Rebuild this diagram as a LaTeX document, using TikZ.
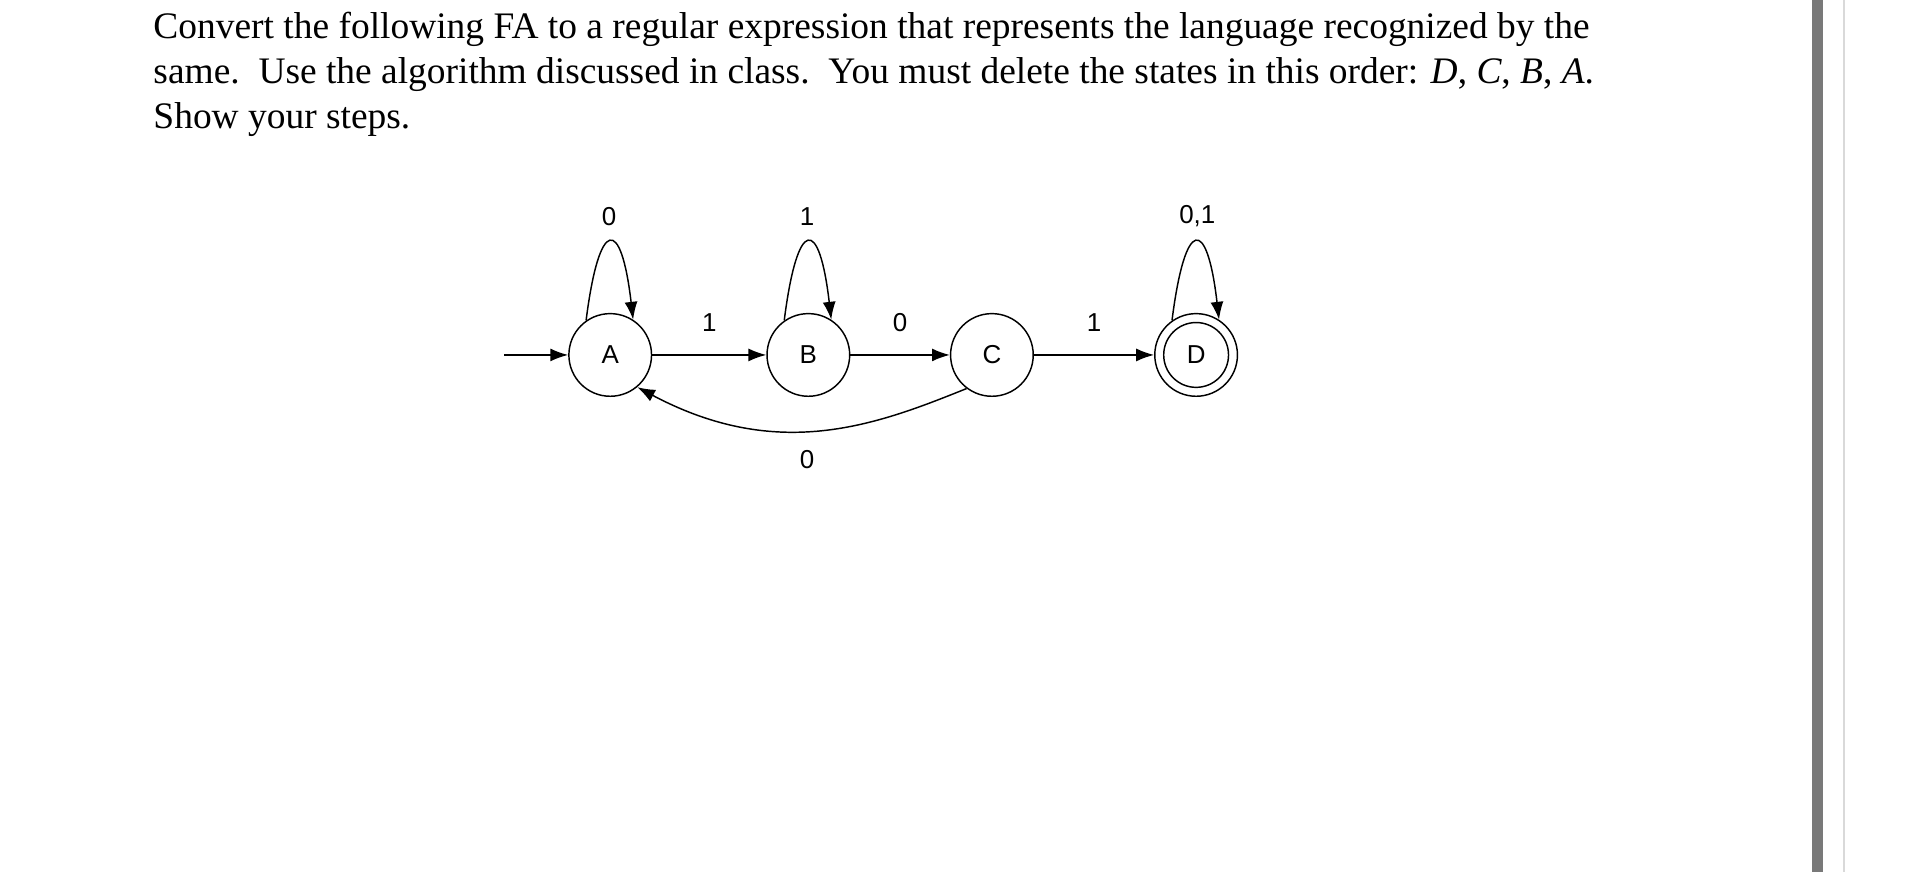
\documentclass[tikz,border=0pt]{standalone}
\usepackage{fontspec}
\setmainfont{Liberation Serif}
\setsansfont{Liberation Sans}
\usetikzlibrary{arrows.meta}
\begin{document}
\begin{tikzpicture}[x=0.75pt,y=-0.75pt,
  st/.style={circle,draw,line width=0.9pt,minimum size=51pt,inner sep=0pt,font=\sffamily\fontsize{16}{19}\selectfont},
  lbl/.style={font=\sffamily\fontsize{16}{19}\selectfont,inner sep=0pt},
  tr/.style={line width=0.9pt,-{Latex[length=11pt,width=8pt]}},
  txt/.style={anchor=base west,inner sep=0pt,font=\fontsize{23.1}{28}\selectfont}]
\useasboundingbox (0,0) rectangle (1568,717);
\fill[gray!95!black] (1491,0) rectangle (1500,717);
\draw[gray!30,line width=0.8pt] (1517,0) -- (1517,717);
\node[txt] (t1) at (126,32) {Convert the following FA to a regular expression that represents the language recognized by the};
\node[txt] (t2) at (126,69) {same.\ \ Use the algorithm discussed in class.\ \ You must delete the states in this order: \textit{D}, \textit{C}, \textit{B}, \textit{A}.};
\node[txt] (t3) at (126,106) {Show your steps.};
\node[st] (A) at (502,292) {A};
\node[st] (B) at (665,292) {B};
\node[st] (C) at (816,292) {C};
\node[st] (D) at (984,292) {};
\node[circle,draw,line width=0.9pt,minimum size=40pt,inner sep=0pt,font=\sffamily\fontsize{16}{19}\selectfont] (Di) at (984,292) {D};
\coordinate (s) at (415,292);
\draw[tr] (s) -- (A);
\draw[tr] (A) -- node[lbl,above=14pt] {1} (B);
\draw[tr] (B) -- node[lbl,above=14pt] {0} (C);
\draw[tr] (C) -- node[lbl,above=14pt] {1} (D);
\draw[tr] (A.125) .. controls (493,178) and (511,178) .. (A.57);
\draw[tr] (B.125) .. controls (656,178) and (674,178) .. (B.57);
\draw[tr] (D.125) .. controls (975,178) and (993,178) .. (D.57);
\node[lbl] (la) at (501,178) {0};
\node[lbl] (lb) at (664,178) {1};
\node[lbl] (ld) at (985,178) {0,1};
\draw[tr] (C.233) .. controls (720,350) and (640,380) .. (A.310);
\node[lbl] (lc) at (664,378) {0};
\end{tikzpicture}
\end{document}
